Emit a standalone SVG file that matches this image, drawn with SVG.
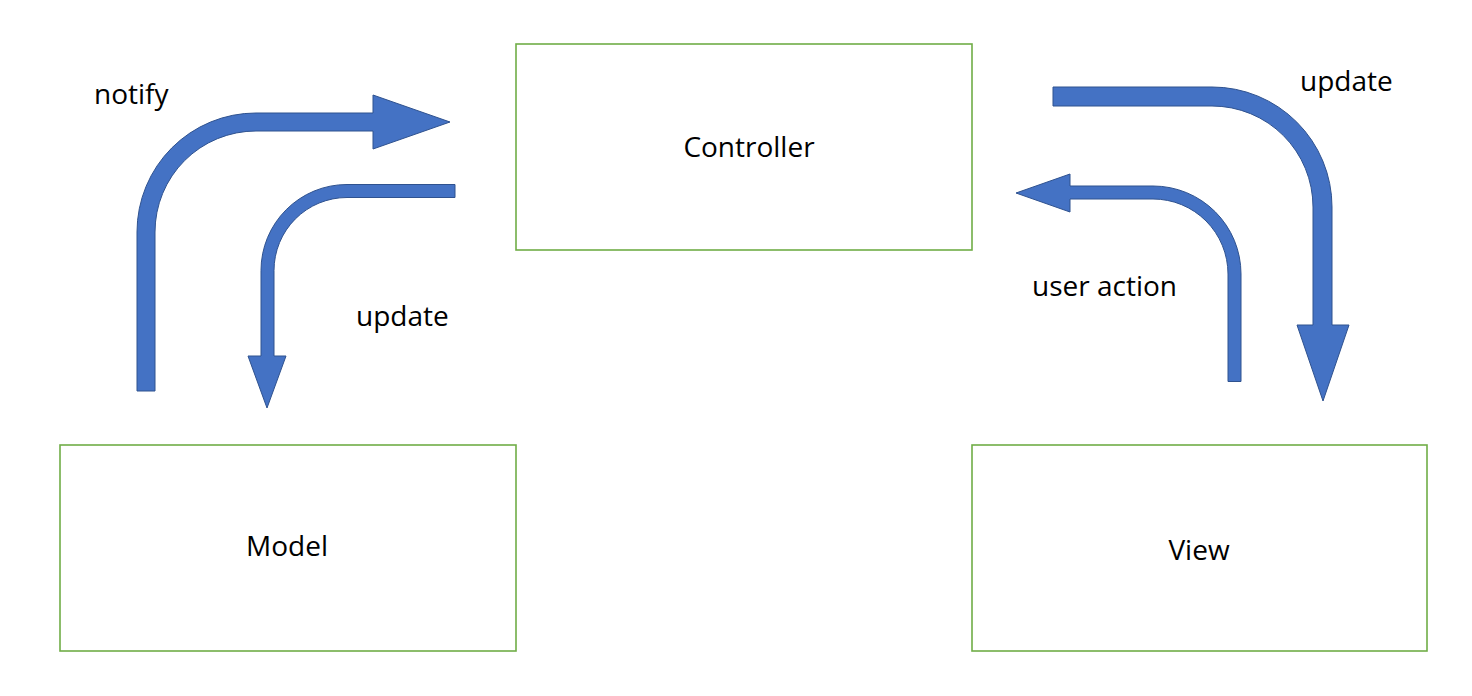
<svg xmlns="http://www.w3.org/2000/svg" width="1472" height="696" viewBox="0 0 1472 696">
<style>
.box{fill:#fff;stroke:#70AD47;stroke-width:1.6}
.arr{fill:#4472C4;stroke:#2F528F;stroke-width:1}
.t{font-family:"Open Sans","Liberation Sans",sans-serif;font-size:28px;fill:#000}
</style>
<rect width="1472" height="696" fill="#fff"/>
<g id="controller">
<rect class="box" x="516" y="44" width="456" height="206"/>
<text class="t" x="749" y="157" text-anchor="middle">Controller</text>
</g>
<g id="model">
<rect class="box" x="60" y="445" width="456" height="206"/>
<text class="t" x="287" y="556" text-anchor="middle">Model</text>
</g>
<g id="view">
<rect class="box" x="972" y="445" width="455" height="206"/>
<text class="t" x="1199" y="560" text-anchor="middle">View</text>
</g>
<g id="connectors">
<path class="arr" d="M137,391 L137,232 A119,119 0 0 1 256,113 L373,113 L373,95 L450,122 L373,149 L373,131 L256,131 A101,101 0 0 0 155,232 L155,391 Z"/>
<path class="arr" d="M455,184.5 L347,184.5 A86,86 0 0 0 261,270.5 L261,356 L248,356 L267,408 L286,356 L274,356 L274,270.5 A73,73 0 0 1 347,197.5 L455,197.5 Z"/>
<path class="arr" d="M1053,87 L1212,87 A120,120 0 0 1 1332,207 L1332,325 L1349,325 L1323,401 L1297,325 L1313,325 L1313,207 A101,101 0 0 0 1212,106 L1053,106 Z"/>
<path class="arr" d="M1228,381.5 L1228,274 A75,75 0 0 0 1153,199 L1070,199 L1070,212 L1016,193 L1070,174 L1070,186 L1153,186 A88,88 0 0 1 1241,274 L1241,381.5 Z"/>
<text class="t" x="94" y="104">notify</text>
<text class="t" x="356" y="326">update</text>
<text class="t" x="1300" y="91">update</text>
<text class="t" x="1032" y="296">user action</text>
</g>
</svg>
